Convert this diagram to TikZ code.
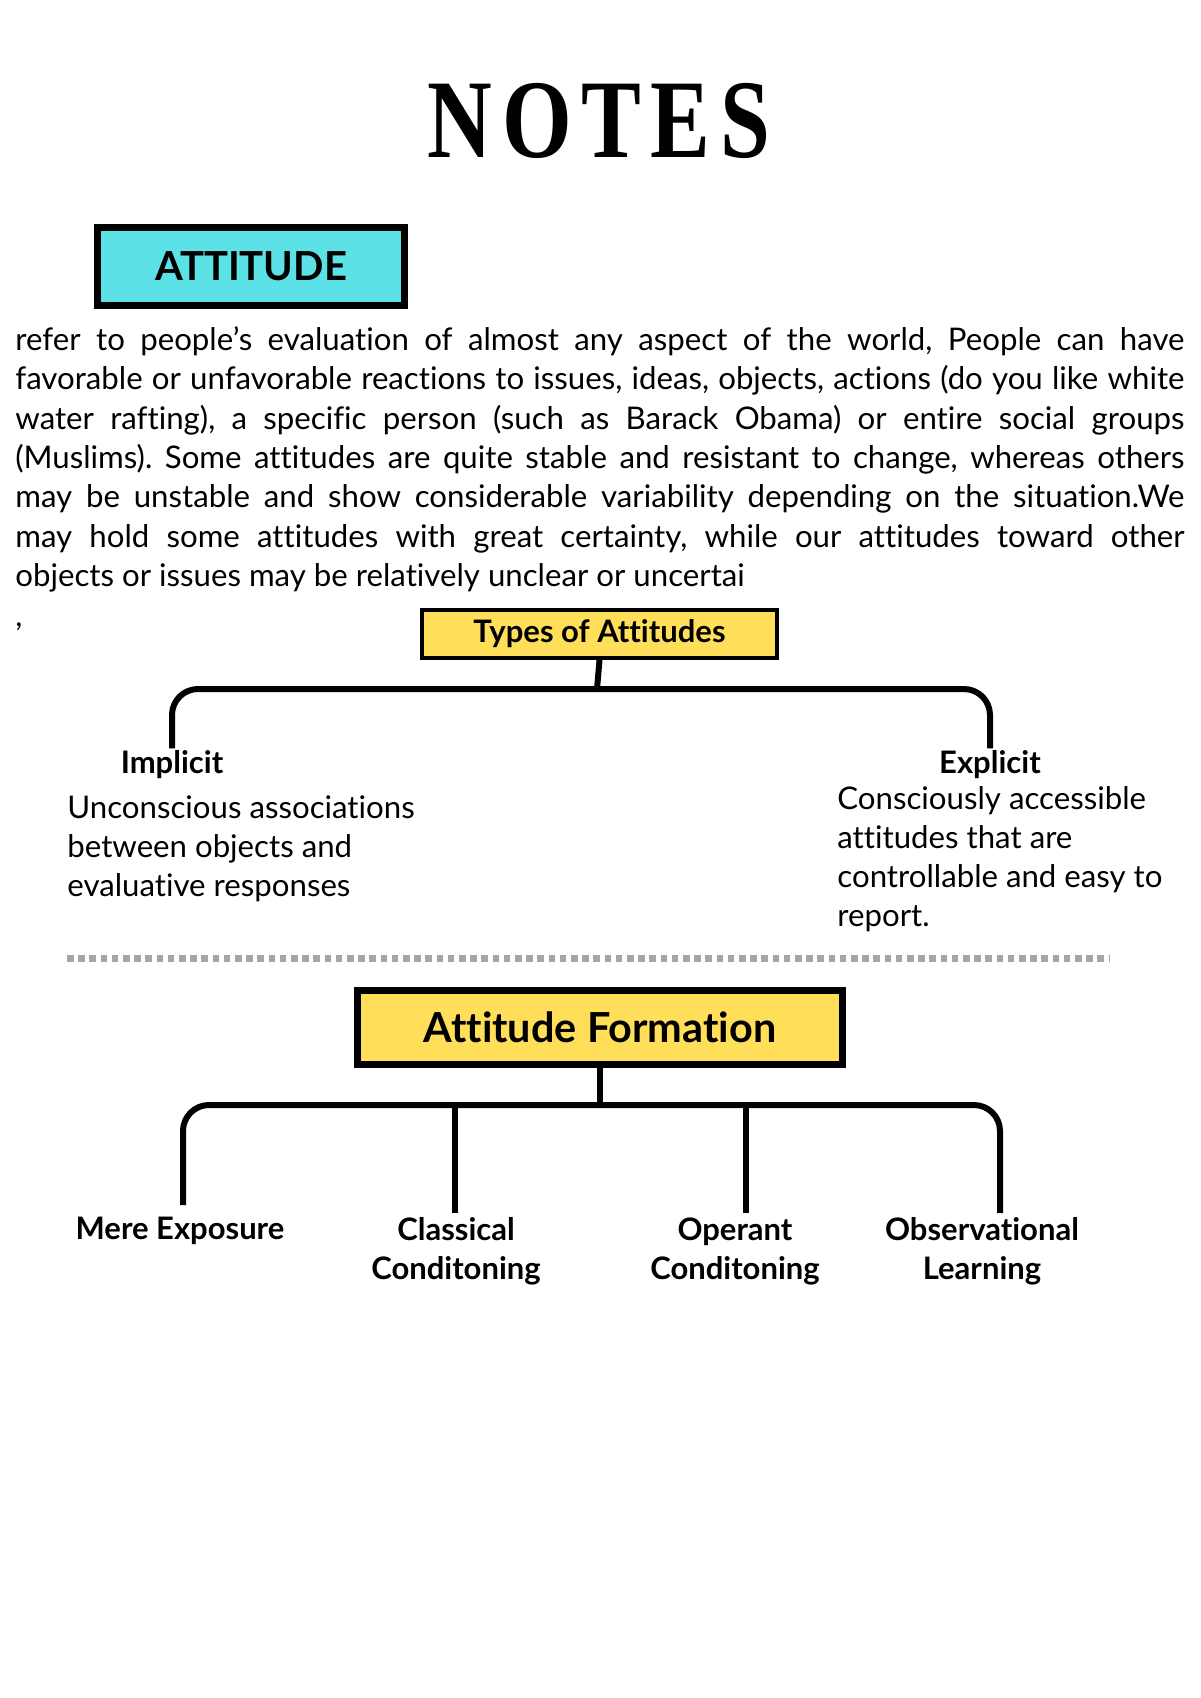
\documentclass[tikz,border=0pt]{standalone}
\usepackage{graphicx}
\usepackage{fontspec}
\setmainfont{Lato}[Ligatures=NoCommon]
\newfontfamily\notesfont{Liberation Serif}
\usetikzlibrary{positioning, calc}

\definecolor{attcyan}{HTML}{5CE1E6}
\definecolor{attyellow}{HTML}{FFDE59}
\definecolor{dotgray}{HTML}{A6A6A6}
\hyphenpenalty=10000
\frenchspacing

\begin{document}
\begin{tikzpicture}[x=0.5pt, y=-0.5pt,
  titlebox/.style={draw, line width=3.5pt, fill=attcyan, minimum width=153.5pt, minimum height=39pt, inner sep=0pt, font=\bfseries\fontsize{20}{24}\selectfont},
  typebox/.style={draw, line width=2.2pt, fill=attyellow, minimum width=177.3pt, minimum height=23.8pt, inner sep=0pt, font=\bfseries\fontsize{15.5}{19}\selectfont},
  formbox/.style={draw, line width=3.5pt, fill=attyellow, minimum width=242.5pt, minimum height=37pt, inner sep=0pt, font=\bfseries\fontsize{20.7}{25}\selectfont},
  kind/.style={inner sep=1pt, align=center, font=\bfseries\fontsize{15.5}{19.5}\selectfont},
  desc/.style={inner sep=0pt, align=left, anchor=north west, font=\fontsize{15.6}{19.5}\selectfont},
  branch/.style={line width=3pt},
  dotline/.style={line width=3.5pt, dotgray, dash pattern=on 3.3pt off 2.3pt}
]

\useasboundingbox (0,0) rectangle (1200,1698);

% Title
\node[anchor=base, inner sep=0pt] (notes) at (599,157)
  {\scalebox{0.8}[1]{\notesfont\bfseries\fontsize{56}{56}\selectfont N\kern6pt O\kern6pt T\kern6pt E\kern6pt S}};

% Definition
\node[titlebox] (attitude) at (251,266.5) {ATTITUDE};
\node[anchor=north west, inner sep=0pt, text width=584.5pt, align=justify,
      font=\fontsize{15.6}{19.7}\selectfont] (defn) at (15,326)
  {refer to people’s evaluation of almost any aspect of the world, People can have\linebreak
   favorable or unfavorable reactions to issues, ideas, objects, actions (do you like white\linebreak
   water rafting), a specific person (such as Barack Obama) or entire social groups\linebreak
   (Muslims). Some attitudes are quite stable and resistant to change, whereas others\linebreak
   may be unstable and show considerable variability depending on the situation.We\linebreak
   may hold some attitudes with great certainty, while our attitudes toward other\linebreak
   objects or issues may be relatively unclear or uncertai};
\node[anchor=base west, inner sep=0pt, font=\fontsize{15.6}{19.7}\selectfont] (comma) at (15,626) {,};

% Types of attitudes
\node[typebox] (types) at (599.5,634) {Types of Attitudes};
\node[kind] (implicit) at (172,765) {Implicit};
\node[kind] (explicit) at (990,765) {Explicit};
\node[desc] (impdesc) at (67,795) {Unconscious associations\\between objects and\\evaluative responses};
\node[desc] (expdesc) at (837,786) {Consciously accessible\\attitudes that are\\controllable and easy to\\report.};

\coordinate (tbar) at (597,689);
\draw[branch] (types.south) -- (tbar);
\draw[branch, rounded corners=13pt] (implicit.north) |- (tbar) -| (explicit.north);

% Divider
\draw[dotline] (67,958) -- (1110,958);

% Attitude formation
\node[formbox] (formation) at (600,1027.5) {Attitude Formation};
\node[kind] (mere) at (180,1231) {Mere Exposure};
\node[kind] (classical) at (456,1251) {Classical\\Conditoning};
\node[kind] (operant) at (735,1251) {Operant\\Conditoning};
\node[kind] (observ) at (982,1251) {Observational\\Learning};

\coordinate (fbar) at (600,1105);
\coordinate (mereend) at (183,1205);
\coordinate (classend) at (455,1213);
\coordinate (operend) at (746,1213);
\coordinate (observend) at (1000,1213);
\draw[branch] (formation.south) -- (fbar);
\draw[branch, rounded corners=13pt] (mereend) |- (fbar) -| (observend);
\draw[branch] (classend) -- (classend |- fbar);
\draw[branch] (operend) -- (operend |- fbar);

\end{tikzpicture}
\end{document}
